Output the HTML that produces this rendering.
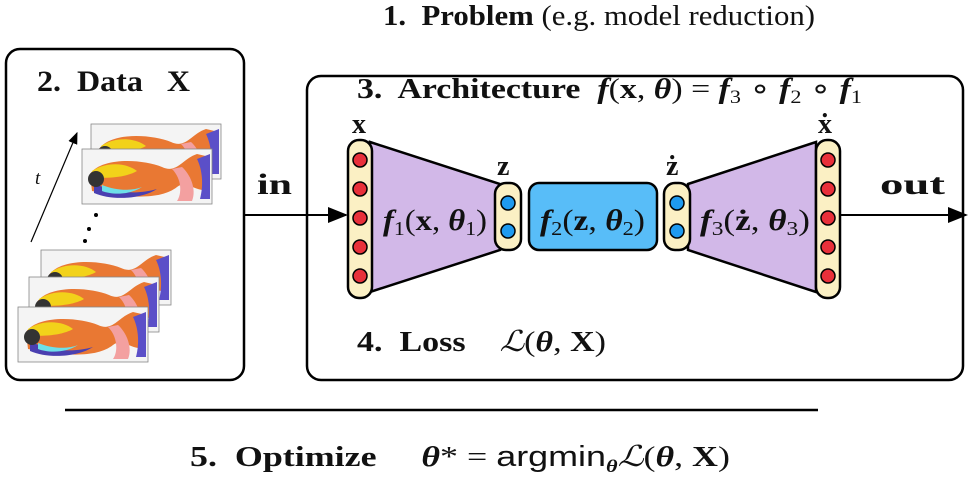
<!DOCTYPE html>
<html><head><meta charset="utf-8"><style>
body{margin:0;background:#fff;width:969px;height:478px;overflow:hidden}
text{font-family:"Liberation Serif",serif;fill:#111;white-space:pre}
</style></head><body>
<svg width="969" height="478" viewBox="0 0 969 478" xmlns="http://www.w3.org/2000/svg" xml:space="preserve">
<defs>
<marker id="ah" markerWidth="10" markerHeight="8" refX="9" refY="4" orient="auto"><path d="M0,0 L10,4 L0,8 z" fill="#000"/></marker>
<g id="flow">
<rect x="0" y="0" width="130" height="55" fill="#f4f4f4" stroke="#888" stroke-width="0.8"/>
<path d="M8,25 C20,8 60,10 80,18 C95,25 100,10 115,5 L128,8 L128,40 C115,45 105,30 95,38 C80,50 50,50 10,42 Z" fill="#e86a1e" opacity="0.9"/>
<path d="M10,22 C25,12 45,14 55,22 C45,28 25,30 10,28Z" fill="#f2d21a"/>
<path d="M12,34 C30,44 55,46 75,40 C60,50 30,52 12,44Z" fill="#4a3fb0"/>
<path d="M20,36 C35,42 50,42 60,38 C48,46 30,46 20,42Z" fill="#6ee0e8"/>
<path d="M90,20 C100,30 100,45 95,52 L110,52 C115,40 108,25 100,18Z" fill="#f3a0a0"/>
<path d="M115,10 L128,5 L128,50 L118,50 C122,35 120,20 115,10Z" fill="#5b4fc8"/>
<circle cx="14" cy="30" r="8" fill="#333"/>
</g>
</defs>
<rect x="6" y="49" width="238" height="331" rx="14" fill="none" stroke="#000" stroke-width="2.5"/>
<text x="37" y="91" font-size="30" font-weight="bold" textLength="153" lengthAdjust="spacingAndGlyphs">2.  Data   X</text>
<use href="#flow" x="91" y="124"/>
<use href="#flow" x="82" y="149"/>
<circle cx="96" cy="215" r="2" fill="#000"/><circle cx="89" cy="229" r="2" fill="#000"/><circle cx="85" cy="241" r="2" fill="#000"/>
<line x1="31" y1="242" x2="77" y2="133" stroke="#000" stroke-width="1.2" marker-end="url(#ah)"/>
<text x="35" y="184" font-size="19" font-style="italic">t</text>
<use href="#flow" x="41" y="250"/>
<use href="#flow" x="29" y="277"/>
<use href="#flow" x="18" y="307"/>
<text x="383" y="25" font-size="29" textLength="432" lengthAdjust="spacingAndGlyphs"><tspan font-weight="bold">1.  Problem</tspan> (e.g. model reduction)</text>
<rect x="307" y="76" width="656" height="304" rx="14" fill="none" stroke="#000" stroke-width="2.5"/>
<text x="357" y="98" font-size="29" textLength="505" lengthAdjust="spacingAndGlyphs"><tspan font-weight="bold">3.  Architecture</tspan>  <tspan font-weight="bold" font-style="italic">f</tspan>(<tspan font-weight="bold">x</tspan>, <tspan font-weight="bold" font-style="italic">θ</tspan>) = <tspan font-weight="bold" font-style="italic">f</tspan><tspan font-size="19" dy="5">3</tspan><tspan dy="-5"> ∘ </tspan><tspan font-weight="bold" font-style="italic">f</tspan><tspan font-size="19" dy="5">2</tspan><tspan dy="-5"> ∘ </tspan><tspan font-weight="bold" font-style="italic">f</tspan><tspan font-size="19" dy="5">1</tspan></text>
<line x1="244" y1="215" x2="346" y2="215" stroke="#000" stroke-width="2" marker-end="url(#ah)"/>
<text x="257" y="194" font-size="30" font-weight="bold" textLength="35" lengthAdjust="spacingAndGlyphs">in</text>
<line x1="840" y1="215" x2="966" y2="215" stroke="#000" stroke-width="2" marker-end="url(#ah)"/>
<text x="880" y="194" font-size="30" font-weight="bold" textLength="65" lengthAdjust="spacingAndGlyphs">out</text>
<polygon points="370,142 500,184 500,250 370,292" fill="#d2b8e8" stroke="#000" stroke-width="2.5"/>
<polygon points="688,184 816,142 816,292 688,250" fill="#d2b8e8" stroke="#000" stroke-width="2.5"/>
<rect x="348" y="140" width="24" height="158" rx="11" fill="#fbf0c4" stroke="#000" stroke-width="2.5"/>
<rect x="816" y="140" width="24" height="158" rx="11" fill="#fbf0c4" stroke="#000" stroke-width="2.5"/>
<g fill="#e8303a" stroke="#000" stroke-width="1.5">
<circle cx="360" cy="160" r="7"/><circle cx="360" cy="189" r="7"/><circle cx="360" cy="218" r="7"/><circle cx="360" cy="247" r="7"/><circle cx="360" cy="276" r="7"/>
<circle cx="828" cy="160" r="7"/><circle cx="828" cy="189" r="7"/><circle cx="828" cy="218" r="7"/><circle cx="828" cy="247" r="7"/><circle cx="828" cy="276" r="7"/>
</g>
<rect x="495" y="183" width="26" height="67" rx="11" fill="#fbf0c4" stroke="#000" stroke-width="2.5"/>
<rect x="664" y="183" width="26" height="67" rx="11" fill="#fbf0c4" stroke="#000" stroke-width="2.5"/>
<g fill="#1e9af0" stroke="#000" stroke-width="1.5">
<circle cx="508" cy="203" r="7"/><circle cx="508" cy="231" r="7"/><circle cx="677" cy="203" r="7"/><circle cx="677" cy="231" r="7"/>
</g>
<rect x="529" y="183" width="128" height="67" rx="10" fill="#58bdf8" stroke="#000" stroke-width="2.5"/>
<text x="352" y="133" font-size="28" font-weight="bold">x</text>
<text x="497" y="175" font-size="28" font-weight="bold">z</text>
<text x="666" y="175" font-size="28" font-weight="bold">ż</text>
<text x="818" y="133" font-size="28" font-weight="bold">ẋ</text>
<text x="383" y="230" font-size="30" textLength="104" lengthAdjust="spacingAndGlyphs"><tspan font-weight="bold" font-style="italic">f</tspan><tspan font-size="20" dy="5">1</tspan><tspan dy="-5">(</tspan><tspan font-weight="bold">x</tspan>, <tspan font-weight="bold" font-style="italic">θ</tspan><tspan font-size="20" dy="5">1</tspan><tspan dy="-5">)</tspan></text>
<text x="540" y="230" font-size="30" textLength="105" lengthAdjust="spacingAndGlyphs"><tspan font-weight="bold" font-style="italic">f</tspan><tspan font-size="20" dy="5">2</tspan><tspan dy="-5">(</tspan><tspan font-weight="bold">z</tspan>, <tspan font-weight="bold" font-style="italic">θ</tspan><tspan font-size="20" dy="5">2</tspan><tspan dy="-5">)</tspan></text>
<text x="700" y="230" font-size="30" textLength="110" lengthAdjust="spacingAndGlyphs"><tspan font-weight="bold" font-style="italic">f</tspan><tspan font-size="20" dy="5">3</tspan><tspan dy="-5">(</tspan><tspan font-weight="bold">ż</tspan>, <tspan font-weight="bold" font-style="italic">θ</tspan><tspan font-size="20" dy="5">3</tspan><tspan dy="-5">)</tspan></text>
<text x="357" y="351" font-size="29" textLength="249" lengthAdjust="spacingAndGlyphs"><tspan font-weight="bold">4.  Loss</tspan>    <tspan font-style="italic">ℒ</tspan>(<tspan font-weight="bold" font-style="italic">θ</tspan>, <tspan font-weight="bold">X</tspan>)</text>
<line x1="65" y1="410" x2="818" y2="410" stroke="#000" stroke-width="2.5"/>
<text x="190" y="466" font-size="29" textLength="540" lengthAdjust="spacingAndGlyphs"><tspan font-weight="bold">5.  Optimize</tspan>     <tspan font-weight="bold" font-style="italic">θ</tspan>* = <tspan font-family="Liberation Sans">argmin</tspan><tspan font-size="18" dy="6" font-weight="bold" font-style="italic">θ</tspan><tspan dy="-6" font-style="italic">ℒ</tspan>(<tspan font-weight="bold" font-style="italic">θ</tspan>, <tspan font-weight="bold">X</tspan>)</text>
</svg>
</body></html>
